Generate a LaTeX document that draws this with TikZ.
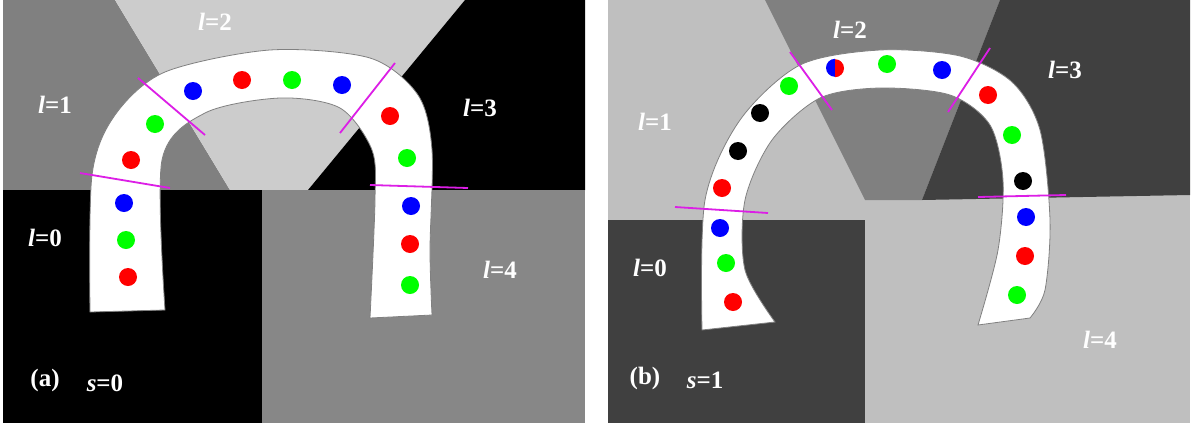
\documentclass[tikz,border=0pt]{standalone}
\usepackage{fontspec}
\setmainfont{Liberation Serif}
\definecolor{cutcol}{RGB}{220,30,230}
\begin{document}
\begin{tikzpicture}[x=1pt,y=-1pt,
  lab/.style={text=white,font=\fontsize{25}{27}\selectfont\bfseries},
  dot/.style={circle,inner sep=0pt,minimum size=18pt},
  cut/.style={draw=cutcol,line width=1.8pt},
  arch/.style={fill=white,draw=gray,line width=0.8pt}]
\useasboundingbox (0,0) rectangle (1193,426);
% panel (a)
\fill[gray!100] (3,0) -- (115,0) -- (230,190) -- (3,190) -- cycle;
\fill[gray!40] (115,0) -- (465,0) -- (308,190) -- (230,190) -- cycle;
\fill[black] (465,0) -- (585,0) -- (585,190) -- (308,190) -- cycle;
\fill[black] (3,190) rectangle (262,423);
\fill[black!47] (262,190) rectangle (585,423);
\draw[arch] plot[smooth] coordinates {(90,312) (92,175) (115,115) (165,72) (270,50) (370,58) (418,95) (432,150) (430,250) (432,315)}
  -- plot[smooth] coordinates {(370,318) (375,200) (372,150) (340,108) (280,98) (205,113) (162,160) (165,310)} -- cycle;
\foreach \x/\y/\c [count=\i] in {128/277/red,126/240/green,124/203/blue,131/160/red,155/124/green,193/91/blue,242/80/red,292/80/green,342/85/blue,390/116/red,407/158/green,411/206/blue,410/244/red,410/285/green}
  \node[dot,fill=\c] (a\i) at (\x,\y) {};
\draw[cut] (138,78) -- (205,135);
\draw[cut] (80,173) -- (170,188);
\draw[cut] (395,63) -- (340,133);
\draw[cut] (370,185) -- (468,188);
\node[lab] (la1) at (55,105) {\textit{l}=1};
\node[lab] (la2) at (215,22) {\textit{l}=2};
\node[lab] (la3) at (480,108) {\textit{l}=3};
\node[lab] (la0) at (45,238) {\textit{l}=0};
\node[lab] (la4) at (500,270) {\textit{l}=4};
\node[lab] (tagA) at (45,380) {(a)};
\node[lab] (sa) at (105,383) {\textit{s}=0};
% panel (b)
\fill[gray!50] (608,0) rectangle (1190,423);
\fill[gray] (765,0) -- (1000,0) -- (922,200) -- (865,200) -- cycle;
\fill[black!75] (1000,0) -- (1190,0) -- (1190,195) -- (922,200) -- cycle;
\fill[black!75] (608,220) rectangle (865,423);
\draw[arch] plot[smooth] coordinates {(702,330) (705,200) (740,120) (800,65) (880,50) (960,56) (1012,82) (1040,130) (1050,220) (1045,290) (1030,318)}
  -- plot[smooth] coordinates {(978,325) (998,250) (1003,180) (990,125) (950,95) (880,88) (820,98) (772,140) (745,200) (745,270) (775,322)} -- cycle;
\foreach \x/\y/\c [count=\i] in {733/302/red,726/263/green,720/228/blue,722/188/red,738/151/black,760/113/black,789/86/green,887/64/green,942/70/blue,988/95/red,1012/135/green,1023/181/black,1026/217/blue,1025/256/red,1017/295/green}
  \node[dot,fill=\c] (b\i) at (\x,\y) {};
\node[dot] (bmix) at (835,68) {};
\fill[blue] (bmix.north) arc[start angle=90,end angle=270,radius=9pt] -- cycle;
\fill[red] (bmix.south) arc[start angle=-90,end angle=90,radius=9pt] -- cycle;
\draw[cut] (790,52) -- (832,110);
\draw[cut] (675,207) -- (768,213);
\draw[cut] (990,48) -- (948,112);
\draw[cut] (978,197) -- (1066,195);
\node[lab] (lb2) at (850,30) {\textit{l}=2};
\node[lab] (lb3) at (1065,70) {\textit{l}=3};
\node[lab] (lb1) at (655,122) {\textit{l}=1};
\node[lab] (lb0) at (650,268) {\textit{l}=0};
\node[lab] (lb4) at (1100,340) {\textit{l}=4};
\node[lab] (tagB) at (645,378) {(b)};
\node[lab] (sb) at (705,380) {\textit{s}=1};
\end{tikzpicture}
\end{document}
